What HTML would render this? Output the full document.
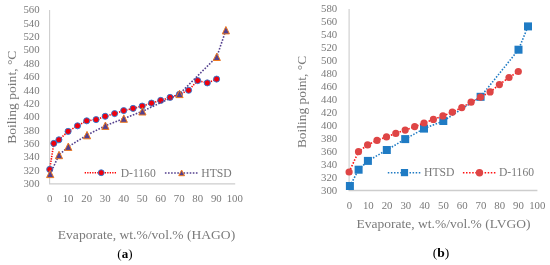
<!DOCTYPE html>
<html lang="en"><head><meta charset="utf-8"><title>Boiling point curves</title>
<style>html,body{margin:0;padding:0;background:#fff}svg{display:block}text{font-family:"Liberation Serif",serif}</style>
</head><body>
<svg width="550" height="265" viewBox="0 0 550 265">
<rect width="550" height="265" fill="#ffffff"/>
<path d="M49.6 10V183.9" fill="none" stroke="#cdcdcd" stroke-width="1.1"/>
<path d="M49.1 183.9H235.2" fill="none" stroke="#cdcdcd" stroke-width="1.4"/>
<g font-size="10.8" fill="#7a7a7a" text-anchor="end">
<text x="39.6" y="13.3">560</text>
<text x="39.6" y="26.68">540</text>
<text x="39.6" y="40.06">520</text>
<text x="39.6" y="53.44">500</text>
<text x="39.6" y="66.82">480</text>
<text x="39.6" y="80.2">460</text>
<text x="39.6" y="93.58">440</text>
<text x="39.6" y="106.96">420</text>
<text x="39.6" y="120.34">400</text>
<text x="39.6" y="133.72">380</text>
<text x="39.6" y="147.1">360</text>
<text x="39.6" y="160.48">340</text>
<text x="39.6" y="173.86">320</text>
<text x="39.6" y="187.24">300</text>
</g>
<g font-size="10.8" fill="#7a7a7a" text-anchor="middle">
<text x="49.6" y="202.15">0</text>
<text x="68.12" y="202.15">10</text>
<text x="86.64" y="202.15">20</text>
<text x="105.16" y="202.15">30</text>
<text x="123.68" y="202.15">40</text>
<text x="142.2" y="202.15">50</text>
<text x="160.72" y="202.15">60</text>
<text x="179.24" y="202.15">70</text>
<text x="197.76" y="202.15">80</text>
<text x="216.28" y="202.15">90</text>
<text x="234.8" y="202.15">100</text>
</g>
<text transform="translate(16.4 97.2) rotate(-90)" font-size="12.8" fill="#7a7a7a" text-anchor="middle" textLength="93.2" lengthAdjust="spacingAndGlyphs">Boiling point, °C</text>
<text x="57.8" y="239.4" font-size="12.8" fill="#7a7a7a" textLength="177.4" lengthAdjust="spacingAndGlyphs">Evaporate, wt.%/vol.% (HAGO)</text>
<text x="124.9" y="257.6" font-size="13" fill="#000" text-anchor="middle">(<tspan font-weight="bold">a</tspan>)</text>
<path d="M49.7 169.4L53.8 143.4L58.9 139.8L68.1 131.4L77.5 125.8L86.7 120.8L96.1 119.6L105.2 116.3L114.6 113.6L123.7 110.6L133.1 108.4L142.2 106.1L151.5 103.1L160.7 100.4L170.1 97.4L179.4 94.3L188.6 90.3L197.7 80.6L207.3 82.9L216.6 79.1" fill="none" stroke="#ff0000" stroke-width="1.6" stroke-dasharray="1.3 1.2"/>
<g fill="#f0000c" stroke="#267cd8" stroke-width="0.9"><circle cx="49.7" cy="169.4" r="3.05"/><circle cx="53.8" cy="143.4" r="3.05"/><circle cx="58.9" cy="139.8" r="3.05"/><circle cx="68.1" cy="131.4" r="3.05"/><circle cx="77.5" cy="125.8" r="3.05"/><circle cx="86.7" cy="120.8" r="3.05"/><circle cx="96.1" cy="119.6" r="3.05"/><circle cx="105.2" cy="116.3" r="3.05"/><circle cx="114.6" cy="113.6" r="3.05"/><circle cx="123.7" cy="110.6" r="3.05"/><circle cx="133.1" cy="108.4" r="3.05"/><circle cx="142.2" cy="106.1" r="3.05"/><circle cx="151.5" cy="103.1" r="3.05"/><circle cx="160.7" cy="100.4" r="3.05"/><circle cx="170.1" cy="97.4" r="3.05"/><circle cx="179.4" cy="94.3" r="3.05"/><circle cx="188.6" cy="90.3" r="3.05"/><circle cx="197.7" cy="80.6" r="3.05"/><circle cx="207.3" cy="82.9" r="3.05"/><circle cx="216.6" cy="79.1" r="3.05"/></g>
<path d="M50.2 173.9L59 155L68.3 146.7L87 135.1L105.4 125.7L123.8 118.6L142.4 111.3L179.5 93.9L216.8 56.8L225.9 30.2" fill="none" stroke="#54408e" stroke-width="1.6" stroke-dasharray="1.6 1.5"/>
<g fill="#54408e" stroke="#ee7a22" stroke-width="1" stroke-linejoin="miter"><path d="M50.2 170.2L53.8 177.6H46.6Z"/><path d="M59 151.3L62.6 158.7H55.4Z"/><path d="M68.3 143L71.9 150.4H64.7Z"/><path d="M87 131.4L90.6 138.8H83.4Z"/><path d="M105.4 122L109 129.4H101.8Z"/><path d="M123.8 114.9L127.4 122.3H120.2Z"/><path d="M142.4 107.6L146 115H138.8Z"/><path d="M179.5 90.2L183.1 97.6H175.9Z"/><path d="M216.8 53.1L220.4 60.5H213.2Z"/><path d="M225.9 26.5L229.5 33.9H222.3Z"/></g>
<path d="M84.7 172.8H116" stroke="#ff0000" stroke-width="1.6" stroke-dasharray="1.3 1.2"/>
<g fill="#f0000c" stroke="#267cd8" stroke-width="0.9"><circle cx="101.2" cy="172.7" r="2.95"/></g>
<text x="120.7" y="177" font-size="12.8" fill="#7a7a7a" textLength="35" lengthAdjust="spacingAndGlyphs">D-1160</text>
<path d="M164.9 173H198.3" stroke="#54408e" stroke-width="1.6" stroke-dasharray="1.6 1.5"/>
<g fill="#54408e" stroke="#ee7a22" stroke-width="1"><path d="M181.65 170L184.55 175.7H178.75Z"/></g>
<text x="201.3" y="177" font-size="12.8" fill="#7a7a7a" textLength="30.5" lengthAdjust="spacingAndGlyphs">HTSD</text>
<path d="M349.1 9.1V190.5" fill="none" stroke="#cdcdcd" stroke-width="1.1"/>
<path d="M348.6 190.5H537.4" fill="none" stroke="#cdcdcd" stroke-width="1.4"/>
<g font-size="10.8" fill="#7a7a7a" text-anchor="end">
<text x="337.2" y="12.25">580</text>
<text x="337.2" y="25.23">560</text>
<text x="337.2" y="38.22">540</text>
<text x="337.2" y="51.2">520</text>
<text x="337.2" y="64.19">500</text>
<text x="337.2" y="77.17">480</text>
<text x="337.2" y="90.16">460</text>
<text x="337.2" y="103.14">440</text>
<text x="337.2" y="116.13">420</text>
<text x="337.2" y="129.11">400</text>
<text x="337.2" y="142.1">380</text>
<text x="337.2" y="155.08">360</text>
<text x="337.2" y="168.07">340</text>
<text x="337.2" y="181.06">320</text>
<text x="337.2" y="194.04">300</text>
</g>
<g font-size="10.8" fill="#7a7a7a" text-anchor="middle">
<text x="349.5" y="209.05">0</text>
<text x="368.28" y="209.05">10</text>
<text x="387.06" y="209.05">20</text>
<text x="405.84" y="209.05">30</text>
<text x="424.62" y="209.05">40</text>
<text x="443.4" y="209.05">50</text>
<text x="462.18" y="209.05">60</text>
<text x="480.96" y="209.05">70</text>
<text x="499.74" y="209.05">80</text>
<text x="518.52" y="209.05">90</text>
<text x="537.3" y="209.05">100</text>
</g>
<text transform="translate(305.6 102) rotate(-90)" font-size="12.8" fill="#7a7a7a" text-anchor="middle" textLength="92.2" lengthAdjust="spacingAndGlyphs">Boiling point, °C</text>
<text x="356.6" y="228.4" font-size="13" fill="#7a7a7a" textLength="173.8" lengthAdjust="spacingAndGlyphs">Evaporate, wt.%/vol.% (LVGO)</text>
<text x="440.9" y="257.1" font-size="13.5" fill="#000" text-anchor="middle">(<tspan font-weight="bold">b</tspan>)</text>
<path d="M349.9 186L358.6 169.7L367.9 160.9L386.8 150L405.2 139.1L424 128.6L443.3 121L480.6 96.8L518.5 49.7L528 26.4" fill="none" stroke="#1f7bc4" stroke-width="1.6" stroke-dasharray="1.5 1.6"/>
<g fill="#1f7bc4"><rect x="345.9" y="182" width="8" height="8"/><rect x="354.6" y="165.7" width="8" height="8"/><rect x="363.9" y="156.9" width="8" height="8"/><rect x="382.8" y="146" width="8" height="8"/><rect x="401.2" y="135.1" width="8" height="8"/><rect x="420" y="124.6" width="8" height="8"/><rect x="439.3" y="117" width="8" height="8"/><rect x="476.6" y="92.8" width="8" height="8"/><rect x="514.5" y="45.7" width="8" height="8"/><rect x="524" y="22.4" width="8" height="8"/></g>
<path d="M349.1 172L358.5 151.7L367.6 144.9L377 140.4L386.5 136.9L395.8 133.4L405.2 130.1L414.7 126.6L424 123L433.4 119.4L442.9 115.9L452.3 112.2L461.8 107.6L471.1 102.2L480.6 97.1L490.1 91.9L499.4 84.6L509 77.5L518.3 71.5" fill="none" stroke="#ff1010" stroke-width="1.6" stroke-dasharray="1.5 1.6"/>
<g fill="#de4545"><circle cx="349.1" cy="172" r="3.6"/><circle cx="358.5" cy="151.7" r="3.6"/><circle cx="367.6" cy="144.9" r="3.6"/><circle cx="377" cy="140.4" r="3.6"/><circle cx="386.5" cy="136.9" r="3.6"/><circle cx="395.8" cy="133.4" r="3.6"/><circle cx="405.2" cy="130.1" r="3.6"/><circle cx="414.7" cy="126.6" r="3.6"/><circle cx="424" cy="123" r="3.6"/><circle cx="433.4" cy="119.4" r="3.6"/><circle cx="442.9" cy="115.9" r="3.6"/><circle cx="452.3" cy="112.2" r="3.6"/><circle cx="461.8" cy="107.6" r="3.6"/><circle cx="471.1" cy="102.2" r="3.6"/><circle cx="480.6" cy="97.1" r="3.6"/><circle cx="490.1" cy="91.9" r="3.6"/><circle cx="499.4" cy="84.6" r="3.6"/><circle cx="509" cy="77.5" r="3.6"/><circle cx="518.3" cy="71.5" r="3.6"/></g>
<path d="M387.8 172.8H421.4" stroke="#1f7bc4" stroke-width="1.6" stroke-dasharray="1.5 1.6"/>
<g fill="#1f7bc4"><rect x="400.9" y="169" width="7.2" height="7.2"/></g>
<text x="424" y="176" font-size="12.8" fill="#7a7a7a" textLength="30.5" lengthAdjust="spacingAndGlyphs">HTSD</text>
<path d="M462.9 172.8H496.6" stroke="#ff1010" stroke-width="1.6" stroke-dasharray="1.5 1.6"/>
<circle cx="479.5" cy="172.7" r="3.7" fill="#de4545"/>
<text x="499" y="176" font-size="12.8" fill="#7a7a7a" textLength="35" lengthAdjust="spacingAndGlyphs">D-1160</text>
</svg>
</body></html>
